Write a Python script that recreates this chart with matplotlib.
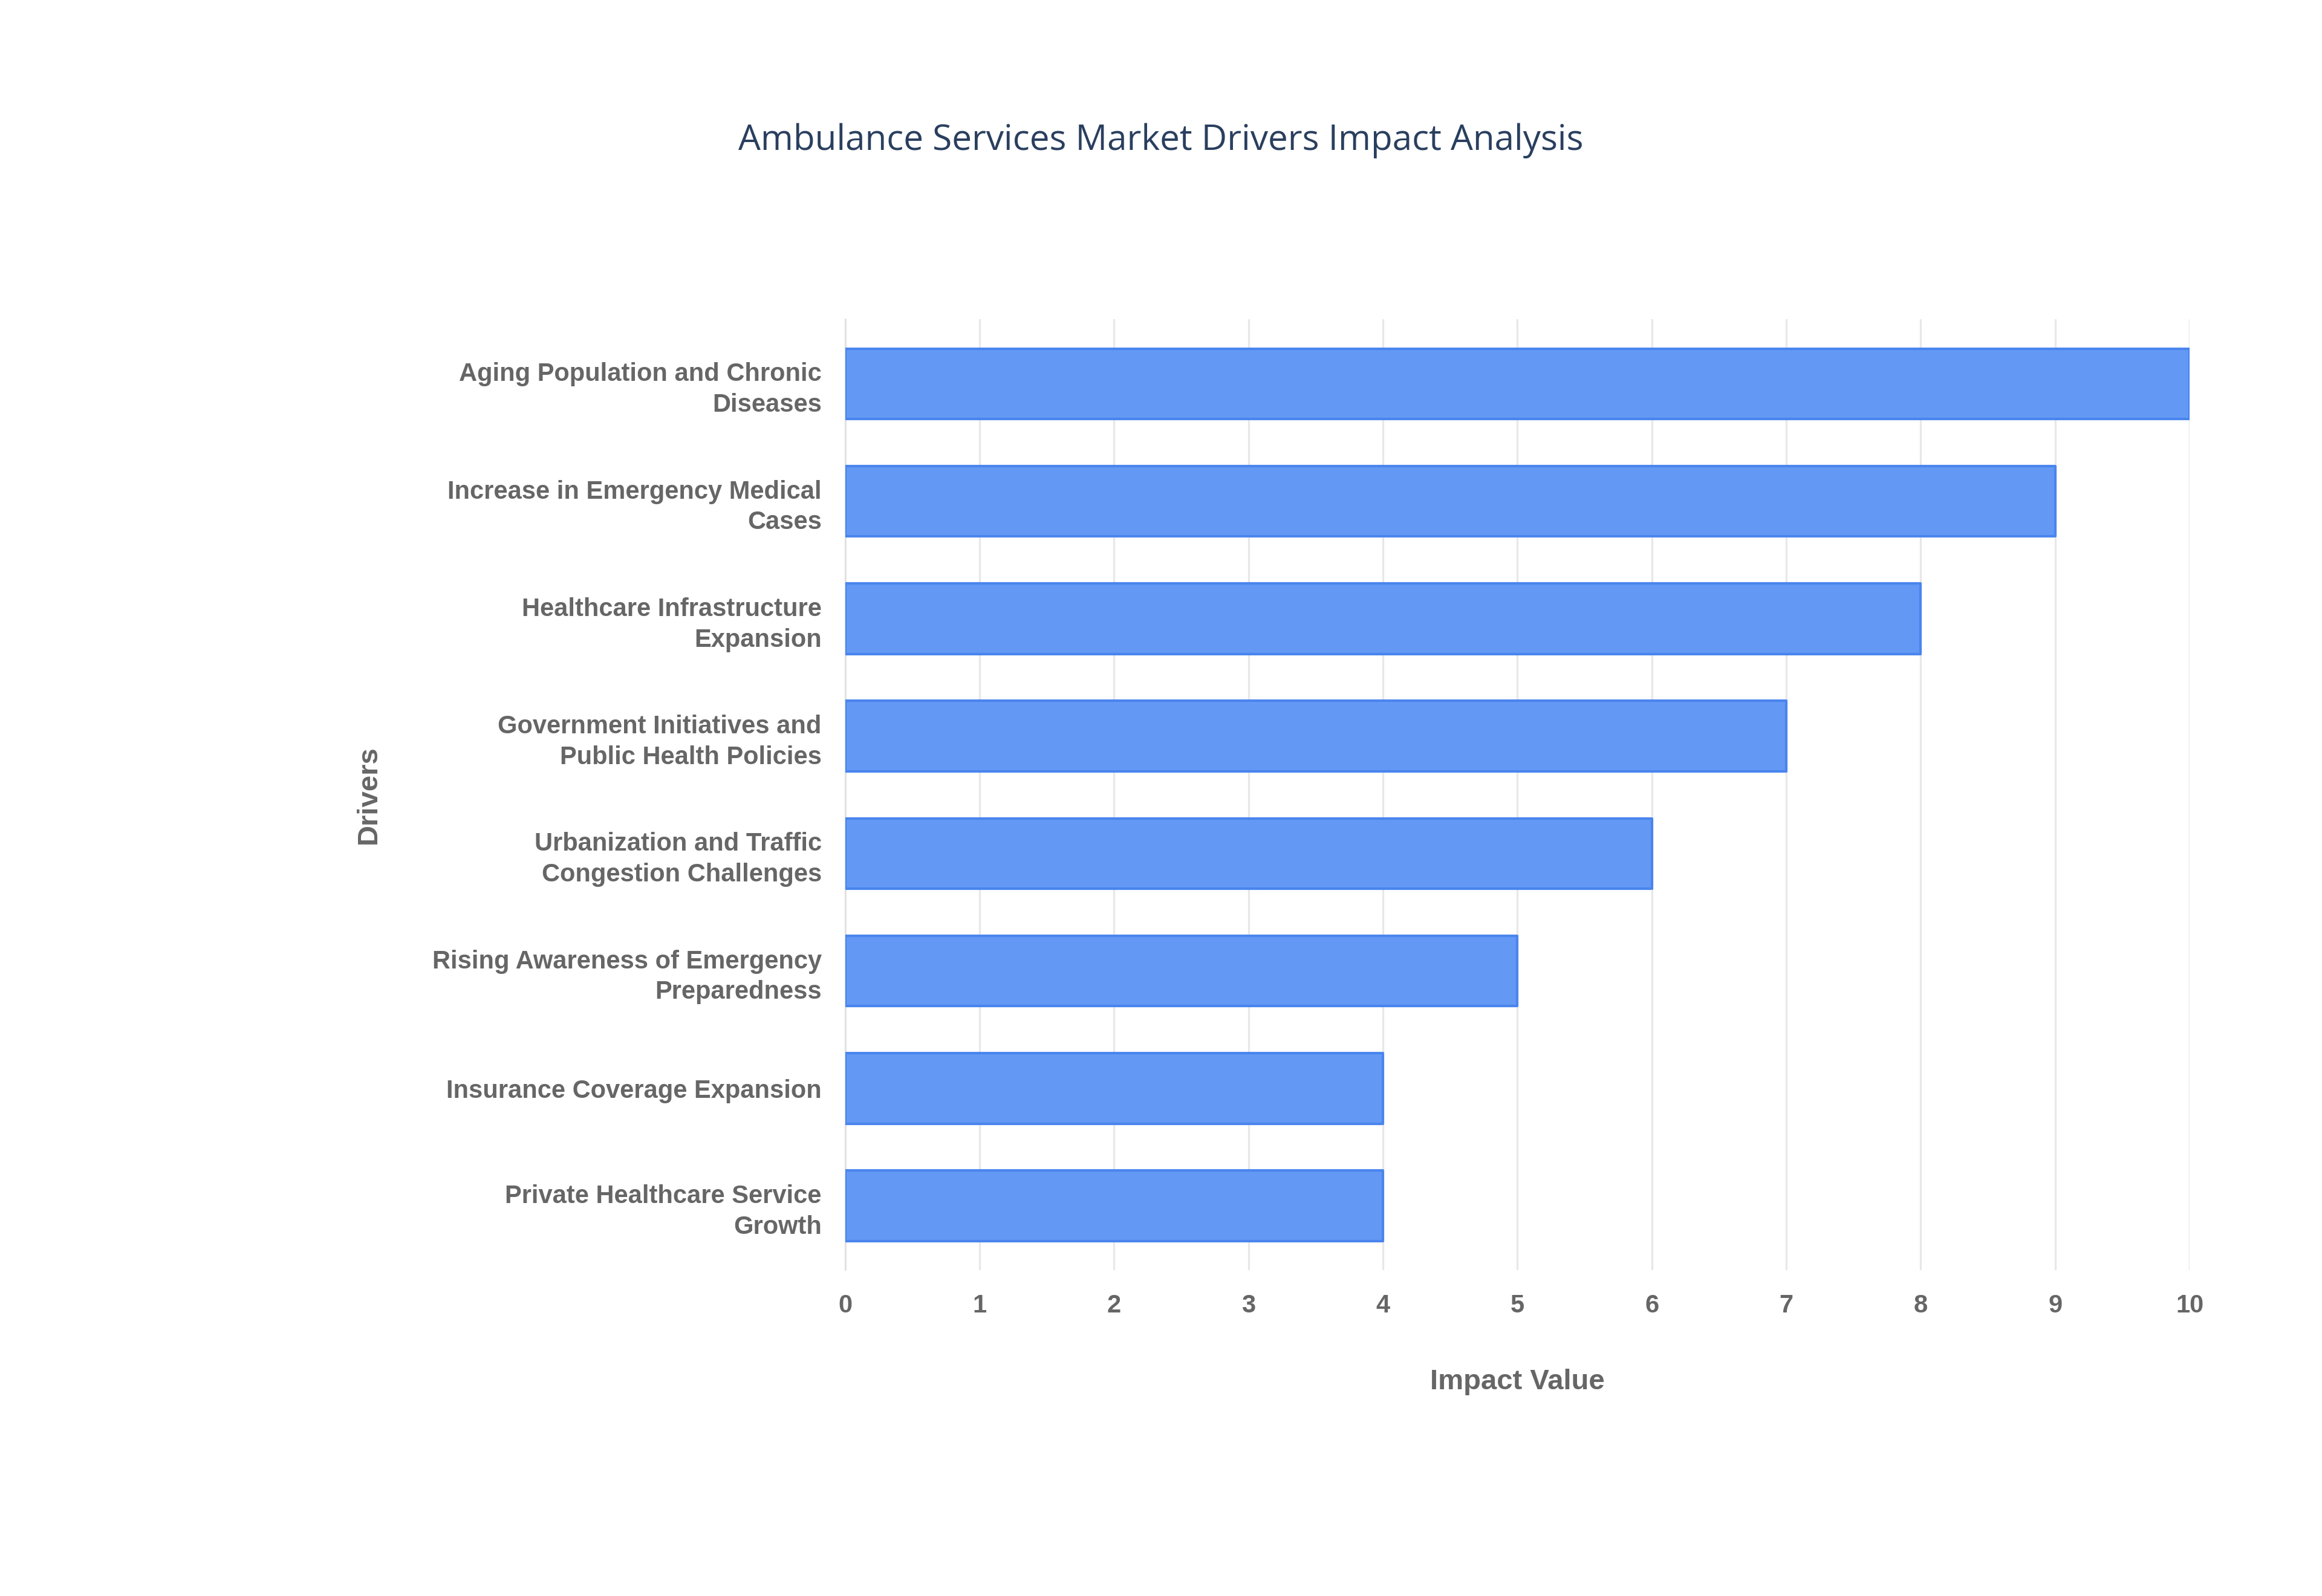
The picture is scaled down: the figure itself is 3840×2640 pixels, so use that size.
import matplotlib
matplotlib.use("Agg")
import matplotlib.pyplot as plt

drivers = ["Aging Population and Chronic\nDiseases",
           "Increase in Emergency Medical\nCases",
           "Healthcare Infrastructure\nExpansion",
           "Government Initiatives and\nPublic Health Policies",
           "Urbanization and Traffic\nCongestion Challenges",
           "Rising Awareness of Emergency\nPreparedness",
           "Insurance Coverage Expansion",
           "Private Healthcare Service\nGrowth"]
impact = [10, 9, 8, 7, 6, 5, 4, 4]

plt.rcParams['font.family'] = ['Liberation Sans', 'DejaVu Sans']
fig = plt.figure(figsize=(19.2, 13.2), dpi=200)
ax = fig.add_axes([0.364, 0.204, 0.579, 0.596])
ypos = list(range(len(drivers)))
ax.barh(ypos, impact, height=0.6, color='#6399f4', edgecolor='#4a85ee',
        linewidth=1.5, joinstyle='round', zorder=3)
ax.set_ylim(len(drivers) - 0.5 + 0.05, -0.5 - 0.05)
ax.set_xlim(0, 10)
ax.set_yticks(ypos)
ax.set_yticklabels(drivers, fontsize=15, fontweight='bold', color='#666666', linespacing=1.35)
ax.set_xticks(range(11))
ax.set_xticklabels([str(i) for i in range(11)], fontsize=15, fontweight='bold', color='#666666')
ax.tick_params(axis='y', length=0, pad=14)
ax.tick_params(axis='x', length=0, pad=14)
ax.grid(axis='x', color='#e8e8e8', linewidth=1.2, zorder=0)
for s in ['top', 'right', 'bottom']:
    ax.spines[s].set_visible(False)
ax.spines['left'].set_color('#e0e0e0')
ax.set_xlabel('Impact Value', fontsize=17, fontweight='bold', color='#666666', labelpad=30)
ax.set_ylabel('Drivers', fontsize=17, fontweight='bold', color='#666666', labelpad=30)
fig.text(0.5, 0.912, 'Ambulance Services Market Drivers Impact Analysis',
         ha='center', va='center', fontsize=21, color='#2a3f5f',
         family=['Open Sans', 'DejaVu Sans'])
fig.savefig('out.png', dpi=200, facecolor='white')
